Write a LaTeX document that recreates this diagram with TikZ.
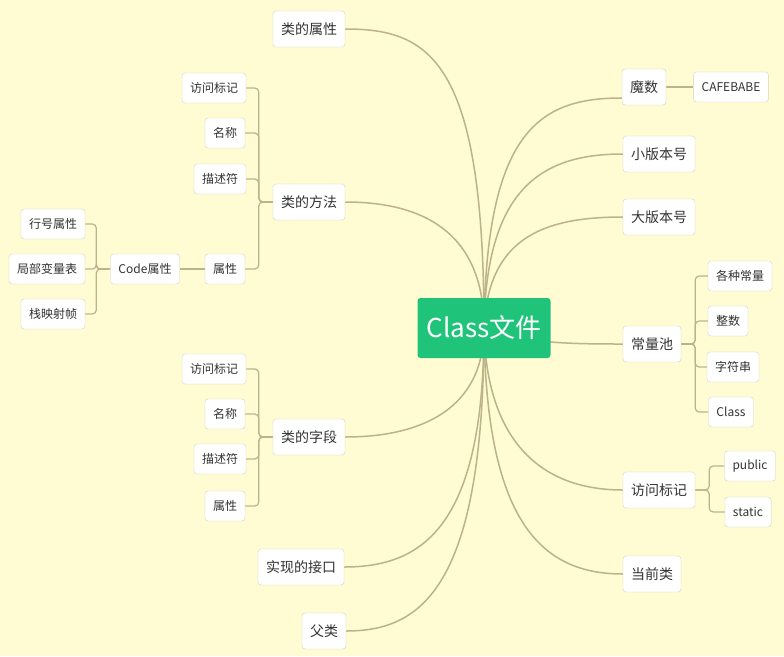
\documentclass[tikz,border=0pt]{standalone}
\usepackage{fontspec}
\setmainfont{Noto Sans CJK SC}
\usetikzlibrary{backgrounds}
\definecolor{bg}{HTML}{FFFBD3}
\definecolor{ln}{HTML}{BDB388}
\definecolor{bd}{HTML}{D6D2BE}
\definecolor{gr}{HTML}{1FC47A}
\definecolor{tx}{HTML}{333333}
\tikzset{x=1pt,y=-1pt,
 br/.style={draw=bd,fill=white,rounded corners=3pt,text=tx,font=\fontsize{14}{16}\selectfont,minimum height=36pt,inner xsep=8pt},
 lf/.style={draw=bd,fill=white,rounded corners=3pt,text=tx,font=\fontsize{12}{14}\selectfont,minimum height=30pt,inner xsep=8pt},
 cn/.style={draw=ln,line width=1.5pt},
 sb/.style={draw=ln,line width=1.2pt,rounded corners=4pt}}
\begin{document}
\begin{tikzpicture}
\useasboundingbox (0,0) rectangle (784,656);
\node[fill=gr,rounded corners=3pt,text=white,font=\fontsize{26}{30}\selectfont,minimum width=133pt,minimum height=60pt] (c) at (484,328) {Class文件};
% left
\node[br] (lsx) at (309,29) {类的属性};
\node[br] (lff) at (309,202) {类的方法};
\node[br] (lzd) at (309,437) {类的字段};
\node[br] (ljk) at (301,567) {实现的接口};
\node[br] (lfl) at (324,631) {父类};
\node[lf] (m1) at (214,88) {访问标记};
\node[lf] (m2) at (225,133) {名称};
\node[lf] (m3) at (220,179) {描述符};
\node[lf] (m4) at (225,269) {属性};
\node[lf] (code) at (145,269) {Code属性};
\node[lf] (k1) at (53,224) {行号属性};
\node[lf] (k2) at (47,269) {局部变量表};
\node[lf] (k3) at (53,314) {栈映射帧};
\node[lf] (f1) at (214,369) {访问标记};
\node[lf] (f2) at (225,414) {名称};
\node[lf] (f3) at (220,459) {描述符};
\node[lf] (f4) at (225,506) {属性};
% right
\node[br] (rms) at (644,87) {魔数};
\node[lf] (cafe) at (731,87) {CAFEBABE};
\node[br] (rxb) at (659,154) {小版本号};
\node[br] (rdb) at (659,217) {大版本号};
\node[br] (rcl) at (652,344) {常量池};
\node[lf] (p1) at (740,276) {各种常量};
\node[lf] (p2) at (728,321) {整数};
\node[lf] (p3) at (733,367) {字符串};
\node[lf] (p4) at (731,412) {Class};
\node[br] (rfw) at (659,490) {访问标记};
\node[lf] (a1) at (750,466) {public};
\node[lf] (a2) at (748,512) {static};
\node[br] (rdq) at (652,574) {当前类};
\begin{scope}[on background layer]
\fill[bg] (0,0) rectangle (784,656);
\draw[cn] (c.center) .. controls (484,60) and (430,29) .. (lsx.east);
\draw[cn] (c.center) .. controls (484,230) and (420,202) .. (lff.east);
\draw[cn] (c.center) .. controls (484,410) and (420,437) .. (lzd.east);
\draw[cn] (c.center) .. controls (484,530) and (420,567) .. (ljk.east);
\draw[cn] (c.center) .. controls (484,590) and (420,631) .. (lfl.east);
\draw[cn] (c.center) .. controls (486,130) and (540,98) .. ([yshift=-11pt]rms.west);
\draw[cn] (c.center) .. controls (486,190) and (540,154) .. (rxb.west);
\draw[cn] (c.center) .. controls (488,240) and (540,217) .. (rdb.west);
\draw[cn] (c.center) .. controls (520,344) and (580,344) .. (rcl.west);
\draw[cn] (c.center) .. controls (486,440) and (540,490) .. (rfw.west);
\draw[cn] (c.center) .. controls (486,520) and (540,574) .. (rdq.west);
\foreach \n in {m1,m2,m3,m4} \draw[sb] (lff.west) -- ++(-14,0) |- (\n.east);
\foreach \n in {f1,f2,f3,f4} \draw[sb] (lzd.west) -- ++(-14,0) |- (\n.east);
\draw[sb] (m4.west) -- (code.east);
\foreach \n in {k1,k2,k3} \draw[sb] (code.west) -- ++(-14,0) |- (\n.east);
\draw[sb] (rms.east) -- (cafe.west);
\foreach \n in {p1,p2,p3,p4} \draw[sb] (rcl.east) -- ++(14,0) |- (\n.west);
\foreach \n in {a1,a2} \draw[sb] (rfw.east) -- ++(14,0) |- (\n.west);
\end{scope}
\end{tikzpicture}
\end{document}
